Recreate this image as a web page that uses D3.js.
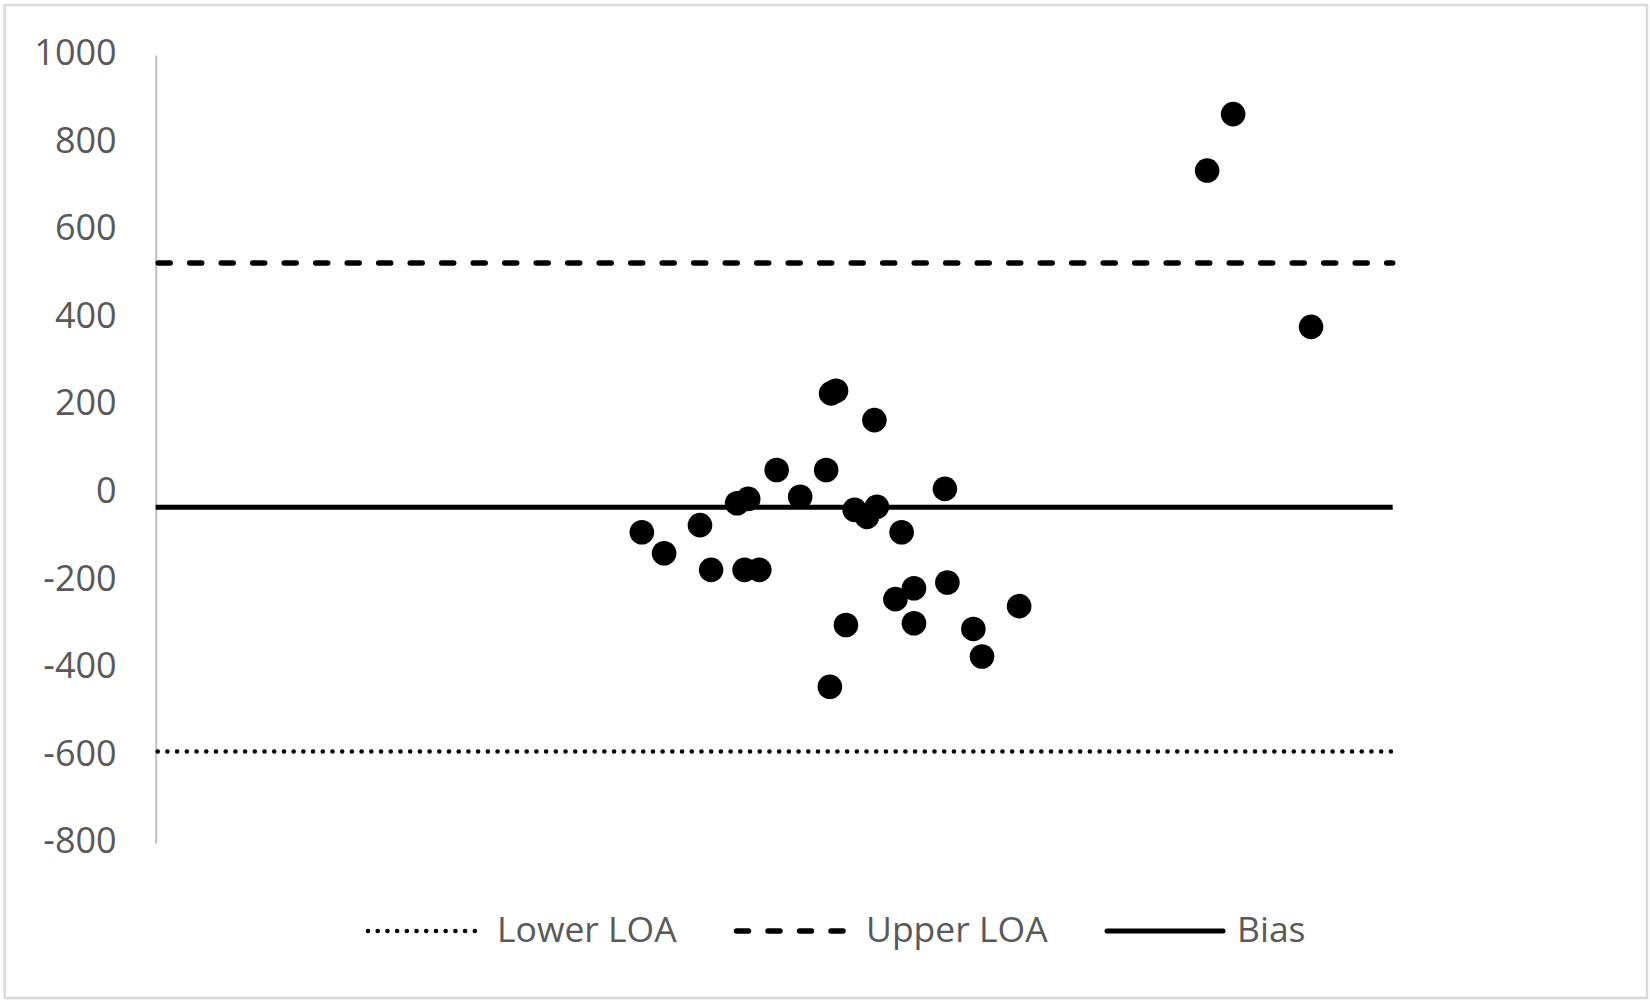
<!DOCTYPE html>
<html>
<head>
<meta charset="utf-8">
<script src="https://cdn.jsdelivr.net/npm/d3@7"></script>
<style>
  html, body { margin: 0; padding: 0; background: #ffffff; }
  svg { display: block; }
</style>
</head>
<body>
<svg id="chart" width="1650" height="1008"></svg>
<script>
// ---- data ----
// x: mean of the two measurements (axis hidden in the original; relative units)
const meanValues = [393, 411, 440, 449, 470, 479, 476, 488, 502, 521, 542, 546, 550, 558, 545,
                    565, 575, 583, 581, 603, 598, 613, 613, 638, 640, 661, 668, 698, 850, 871, 934];
// y: difference between the two measurements
const diffValues = [-90, -138, -74, -176, -24, -14, -176, -176, 52, -9, 52, 227, 233, -302, -443,
                    -39, -55, -32, 166, -90, -243, -218, -298, 9, -205, -311, -374, -259, 736, 865, 379];
const yTicks = [1000, 800, 600, 400, 200, 0, -200, -400, -600, -800];
const xDomain = [0, 1000];
const yDomain = [-800, 1000];
const biasValue = -33;
const upperLOA = 525;
const lowerLOA = -591;
const legendLabels = ["Lower LOA", "Upper LOA", "Bias"];

// ---- drawing ----
const svg = d3.select("#chart");
const textColor = "#595959";
const font = "'Open Sans', sans-serif";

// outer chart border
svg.append("rect")
  .attr("x", 4.7).attr("y", 5)
  .attr("width", 1642.3).attr("height", 993)
  .attr("fill", "#ffffff")
  .attr("stroke", "#d9d9d9")
  .attr("stroke-width", 2.5);

const x = d3.scaleLinear().domain(xDomain).range([155.7, 1392.7]);
const y = d3.scaleLinear().domain(yDomain).range([843, 55]);

// y axis
const yAxis = d3.axisLeft(y)
  .tickValues(yTicks)
  .tickSize(0)
  .tickSizeOuter(0)
  .tickPadding(39)
  .tickFormat(d3.format("d"));

const gy = svg.append("g")
  .attr("transform", `translate(${x(xDomain[0])},0)`)
  .call(yAxis);
gy.select(".domain").attr("stroke", "#bfbfbf").attr("stroke-width", 2);
gy.selectAll("text")
  .attr("fill", textColor)
  .attr("font-family", font)
  .attr("font-size", 36)
  .attr("font-weight", 500)
  .attr("dy", "0.27em")
  .text(d => d < 0 ? "-" + Math.abs(d) : String(d));

// reference lines
const refLines = [
  { v: lowerLOA, dash: "0.01 9.7", width: 4.6, cap: "round", offset: -2 },
  { v: upperLOA, dash: "12 19.5", width: 5.5, cap: "round", offset: -2.5 },
  { v: biasValue, dash: null, width: 5, cap: "butt", offset: 0 }
];
refLines.forEach(l => {
  svg.append("line")
    .attr("x1", x(xDomain[0])).attr("x2", x(xDomain[1]))
    .attr("y1", y(l.v)).attr("y2", y(l.v))
    .attr("stroke", "#000")
    .attr("stroke-width", l.width)
    .attr("stroke-linecap", l.cap)
    .attr("stroke-dasharray", l.dash)
    .attr("stroke-dashoffset", l.offset);
});

// points
const pts = meanValues.map((m, i) => ({ m, d: diffValues[i] }));
svg.append("g").selectAll("circle")
  .data(pts)
  .join("circle")
  .attr("cx", p => x(p.m))
  .attr("cy", p => y(p.d))
  .attr("r", 12.3)
  .attr("fill", "#000");

// legend
const legendY = 931;
const legendItems = [
  { label: legendLabels[0], x1: 368, x2: 484, dash: "0.01 9.7", width: 4.6, cap: "round", tx: 497 },
  { label: legendLabels[1], x1: 736.5, x2: 845.5, dash: "12 19.5", width: 5.5, cap: "round", tx: 866 },
  { label: legendLabels[2], x1: 1107, x2: 1223, dash: null, width: 5, cap: "round", tx: 1237 }
];
const lg = svg.append("g");
legendItems.forEach(it => {
  lg.append("line")
    .attr("x1", it.x1).attr("x2", it.x2)
    .attr("y1", legendY).attr("y2", legendY)
    .attr("stroke", "#000")
    .attr("stroke-width", it.width)
    .attr("stroke-linecap", it.cap)
    .attr("stroke-dasharray", it.dash);
  lg.append("text")
    .attr("x", it.tx).attr("y", 942.3)
    .attr("fill", textColor)
    .attr("font-family", font)
    .attr("font-size", 35.5)
    .attr("font-weight", 500)
    .text(it.label);
});
</script>
</body>
</html>
